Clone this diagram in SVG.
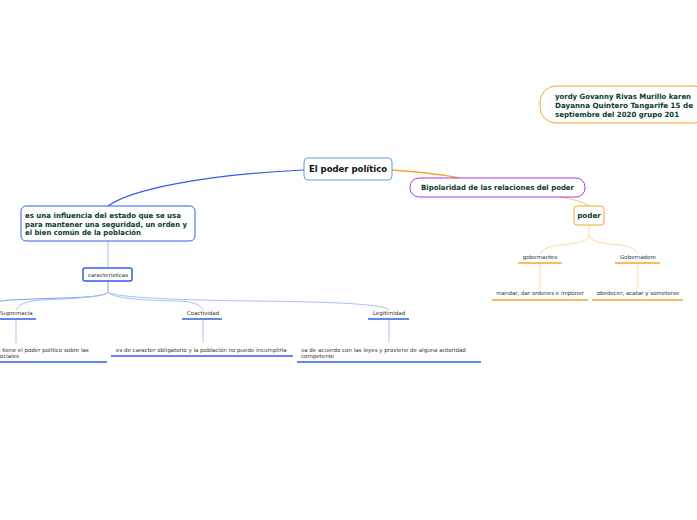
<svg xmlns="http://www.w3.org/2000/svg" width="697" height="520" viewBox="0 0 697 520">
<style>
text{font-family:"Verdana","DejaVu Sans",sans-serif;fill:#333}
.b{font-weight:bold;fill:#0b3b2e;font-size:7.2px}
.s{font-size:5.5px}
</style>
<rect width="697" height="520" fill="#fff"/>
<g id="connectors" fill="none">
<path d="M304 170 C200 175 130 190 108 206" stroke="#2f5fe8" stroke-width="1.2"/>
<path d="M392 170 C430 173 450 176 460 178" stroke="#f7a531" stroke-width="1.5"/>
<path d="M560 197 Q580 200 589 206" stroke="#f7c57a"/>
<path d="M108 241 V268" stroke="#a9bff5"/>
<path d="M108 281 V292 Q108 297 60 298 L10 300 Q0 301 -5 302" stroke="#7f9ff0"/>
<path d="M108 292 Q105 298 40 300 Q18 302 16 310" stroke="#a9bff5"/>
<path d="M108 292 Q112 300 180 301 Q200 302 203 310" stroke="#a9bff5"/>
<path d="M108 292 Q115 299 250 301 Q385 302 389 310" stroke="#a9bff5"/>
<path d="M16 320 V343" stroke="#a9bff5"/>
<path d="M203 320 V343" stroke="#a9bff5"/>
<path d="M389 320 V343" stroke="#a9bff5"/>
<path d="M589 225 V235 Q589 243 560 245 Q542 247 540 254" stroke="#fbd79e"/>
<path d="M589 235 Q589 243 620 245 Q636 247 638 254" stroke="#fbd79e"/>
<path d="M540 263 V288" stroke="#fbd79e"/>
<path d="M638 263 V288" stroke="#fbd79e"/>
</g>
<g id="n-main"><rect x="304" y="158" width="88" height="22" rx="4" fill="#fff" stroke="#5aa0e0"/><text x="348" y="172" text-anchor="middle" style="font-size:8.5px;font-weight:bold;fill:#111">El poder político</text></g>
<g id="n-authors"><rect x="540" y="86" width="170" height="37" rx="16" fill="#fff" stroke="#f7a531"/><text class="b" x="555" y="99" textLength="136" lengthAdjust="spacingAndGlyphs">yordy Govanny Rivas Murillo karen</text><text class="b" x="555" y="108" textLength="138" lengthAdjust="spacingAndGlyphs">Dayanna Quintero Tangarife  15 de</text><text class="b" x="555" y="117" textLength="124" lengthAdjust="spacingAndGlyphs">septiembre del 2020 grupo 201</text></g>
<g id="n-bipol"><rect x="410" y="178" width="175" height="19" rx="9" fill="#fff" stroke="#a33de0"/><text class="b" x="421" y="190" textLength="153" lengthAdjust="spacingAndGlyphs">Bipolaridad de las relaciones del poder</text></g>
<g id="n-poder"><rect x="574" y="206" width="30" height="19" rx="3" fill="#fff" stroke="#f7a531"/><text class="b" x="589" y="218" text-anchor="middle">poder</text></g>
<g id="n-gob"><text class="s" x="540" y="259" text-anchor="middle">gobernantes</text><line x1="518" y1="263" x2="562" y2="263" stroke="#f7a531" stroke-width="1.5"/></g>
<g id="n-gob2"><text class="s" x="638" y="259" text-anchor="middle">Gobernadore</text><line x1="615" y1="263" x2="660" y2="263" stroke="#f7a531" stroke-width="1.5"/></g>
<g id="n-mandar"><text class="s" x="540" y="295" text-anchor="middle">mandar, dar ordenes e imponer</text><line x1="492" y1="300" x2="588" y2="300" stroke="#f7a531" stroke-width="1.5"/></g>
<g id="n-obed"><text class="s" x="638" y="295" text-anchor="middle">obedecer, acatar y someterse</text><line x1="592" y1="300" x2="683" y2="300" stroke="#f7a531" stroke-width="1.5"/></g>
<g id="n-def"><rect x="21" y="206" width="174" height="35" rx="5" fill="#fff" stroke="#2f5fe8"/><text class="b" x="25" y="218" textLength="156" lengthAdjust="spacingAndGlyphs">es  una influencia del estado que se usa</text><text class="b" x="25" y="227" textLength="162" lengthAdjust="spacingAndGlyphs">para mantener una seguridad, un orden y</text><text class="b" x="25" y="235" textLength="116" lengthAdjust="spacingAndGlyphs">el bien común de la población</text></g>
<g id="n-car"><rect x="83" y="268" width="49" height="13" rx="2" fill="#fff" stroke="#2f5fe8" stroke-width="1.5"/><text class="s" x="108" y="277" text-anchor="middle">características</text></g>
<g id="n-sup"><text class="s" x="0" y="315">Supremacía</text><line x1="-5" y1="319" x2="36" y2="319" stroke="#2f5fe8" stroke-width="1.5"/></g>
<g id="n-coa"><text class="s" x="203" y="315" text-anchor="middle">Coactividad</text><line x1="182" y1="319" x2="222" y2="319" stroke="#2f5fe8" stroke-width="1.5"/></g>
<g id="n-leg"><text class="s" x="389" y="315" text-anchor="middle">Legitimidad</text><line x1="368" y1="319" x2="409" y2="319" stroke="#2f5fe8" stroke-width="1.5"/></g>
<g id="n-sup-d"><text class="s" x="-3" y="352">e tiene el poder político sobre las</text><text class="s" x="-3" y="358">sociales</text><line x1="-5" y1="362" x2="107" y2="362" stroke="#2f5fe8" stroke-width="1.5"/></g>
<g id="n-coa-d"><text class="s" x="116" y="352">es de caracter obligatorio y la población no puede incumplirla</text><line x1="111" y1="356" x2="293" y2="356" stroke="#2f5fe8" stroke-width="1.5"/></g>
<g id="n-leg-d"><text class="s" x="301" y="352">va de acuerdo con las leyes y proviene de alguna autoridad</text><text class="s" x="301" y="358">competente</text><line x1="297" y1="362" x2="481" y2="362" stroke="#2f5fe8" stroke-width="1.5"/></g>
</svg>
